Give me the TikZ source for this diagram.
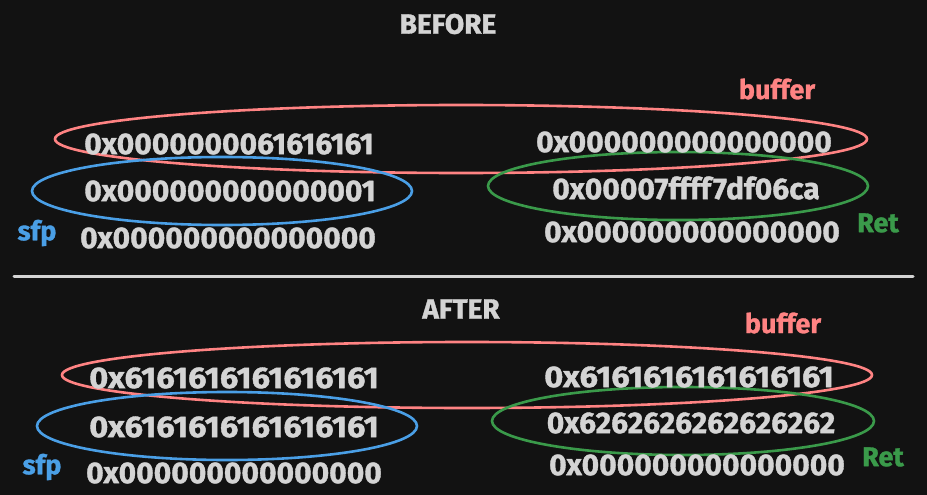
\documentclass[tikz,border=0pt]{standalone}
\usepackage{fontspec}
\setmainfont{Fira Sans}[Numbers=Proportional,BoldFeatures={FakeBold=1.2}]
\definecolor{bg}{HTML}{121212}
\definecolor{txt}{HTML}{D4D4D4}
\definecolor{redc}{HTML}{FF8383}
\definecolor{bluec}{HTML}{4A9FE6}
\definecolor{greenc}{HTML}{3A9A4A}
\newcommand{\wide}[1]{\scalebox{1.09}[1]{#1}}
\begin{document}
\begin{tikzpicture}[x=1pt,y=-1pt,
  val/.style={text=txt,font=\fontsize{30}{32}\selectfont\bfseries,inner sep=0pt},
  title/.style={text=txt,font=\fontsize{28}{30}\selectfont\bfseries,inner sep=0pt},
  lbl/.style={font=\fontsize{27}{30}\selectfont\bfseries,inner sep=0pt},
  ring/.style={line width=2.6pt}]
\fill[bg] (0,0) rectangle (927,495);
\useasboundingbox (0,0) rectangle (927,495);

% BEFORE
\node[title] (before) at (448,24) {BEFORE};
\node[lbl,text=redc] (buf1) at (777,89) {buffer};
\draw[ring,redc] (461,139) ellipse [x radius=406,y radius=34];
\draw[ring,bluec] (222,191) ellipse [x radius=190,y radius=34];
\draw[ring,greenc] (678,186) ellipse [x radius=190,y radius=34];
\node[val] (b1) at (229,144) {0x0000000061616161};
\node[val] (b2) at (230,191) {0x000000000000001};
\node[val] (b3) at (228,238) {0x000000000000000};
\node[val] (b4) at (684,142) {0x000000000000000};
\node[val] (b5) at (686,188) {0x00007ffff7df06ca};
\node[val] (b6) at (692,232) {0x000000000000000};
\node[lbl,text=bluec] (sfp1) at (37,233) {sfp};
\node[lbl,text=greenc] (ret1) at (878,223) {Ret};

% separator
\coordinate (sepL) at (14,276);
\coordinate (sepR) at (913,276);
\draw[line width=3pt,txt,line cap=round] (sepL) -- (sepR);

% AFTER
\node[title] (after) at (461,309) {AFTER};
\node[lbl,text=redc] (buf2) at (783,323) {buffer};
\draw[ring,redc] (467,375) ellipse [x radius=405,y radius=33];
\draw[ring,bluec] (227,426) ellipse [x radius=190,y radius=34];
\draw[ring,greenc] (683,421) ellipse [x radius=191,y radius=34];
\node[val] (a1) at (234,378) {\wide{0x6161616161616161}};
\node[val] (a2) at (234,427) {\wide{0x6161616161616161}};
\node[val] (a3) at (234,473) {0x000000000000000};
\node[val] (a4) at (689,377) {\wide{0x6161616161616161}};
\node[val] (a5) at (691,423) {0x6262626262626262};
\node[val] (a6) at (697,465) {0x000000000000000};
\node[lbl,text=bluec] (sfp2) at (42,467) {sfp};
\node[lbl,text=greenc] (ret2) at (883,457) {Ret};
\end{tikzpicture}
\end{document}
